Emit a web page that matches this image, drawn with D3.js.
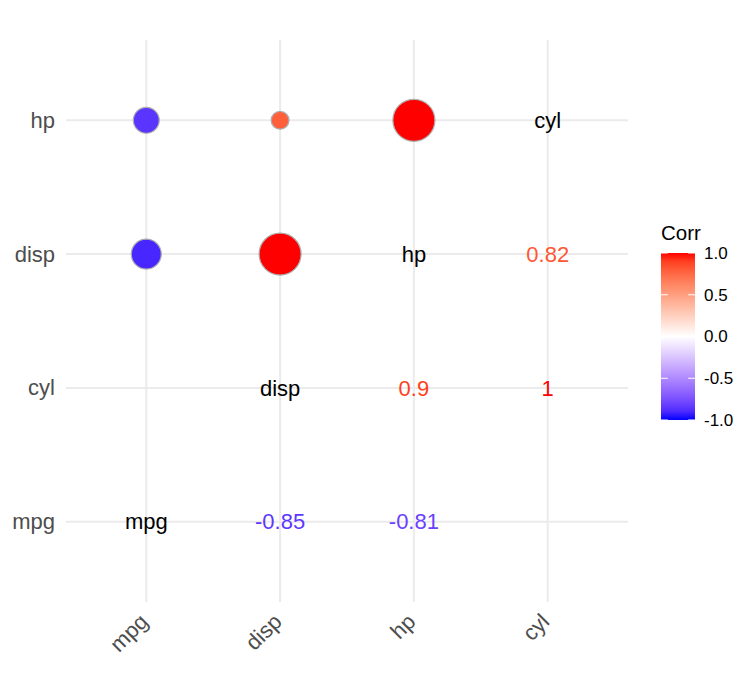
<!DOCTYPE html>
<html>
<head>
<meta charset="utf-8">
<script src="https://cdn.jsdelivr.net/npm/d3@7"></script>
<style>
  body { margin: 0; background: #fff; }
  text { font-family: "Liberation Sans", Arial, sans-serif; }
</style>
</head>
<body>
<div id="chart-area"></div>
<script>
// variables in axis order
const xVars = ["mpg", "disp", "hp", "cyl"];
const yVars = ["mpg", "cyl", "disp", "hp"];

// lower triangle: circles (corr value + relative size)
const circleX = ["mpg", "disp", "hp", "mpg", "disp"];
const circleY = ["hp", "hp", "hp", "disp", "disp"];
const circleCorr = [-0.86, 0.79, 1, -0.91, 1];
const circleSize = [0.38, 0.18, 1, 0.51, 1];

// variable name labels
const nameX = ["cyl", "hp", "disp", "mpg"];
const nameY = ["hp", "disp", "cyl", "mpg"];

// upper triangle: numbers
const numX = ["cyl", "hp", "cyl", "disp", "hp"];
const numY = ["disp", "cyl", "cyl", "mpg", "mpg"];
const numCorr = [0.82, 0.9, 1, -0.85, -0.81];

const legendTicks = [-1, -0.5, 0, 0.5, 1];

const width = 756, height = 700;
const margin = {top: 40, right: 128, bottom: 98, left: 66};
const fs = 22;

const svg = d3.select("#chart-area").append("svg")
    .attr("width", width)
    .attr("height", height);

const x = d3.scalePoint()
    .domain(xVars)
    .range([margin.left, width - margin.right])
    .padding(0.6);

const y = d3.scalePoint()
    .domain(yVars)
    .range([height - margin.bottom, margin.top])
    .padding(0.6);

const color = d3.scaleLinear()
    .domain([-1, 0, 1])
    .range(["#0000ff", "#ffffff", "#ff0000"])
    .interpolate(d3.interpolateLab);

const r = d3.scaleSqrt().domain([0, 1]).range([0, 21]);

// grid
svg.append("g").selectAll("line")
    .data(xVars)
    .enter().append("line")
    .attr("x1", d => x(d)).attr("x2", d => x(d))
    .attr("y1", margin.top).attr("y2", height - margin.bottom)
    .attr("stroke", "#ebebeb").attr("stroke-width", 2);

svg.append("g").selectAll("line")
    .data(yVars)
    .enter().append("line")
    .attr("y1", d => y(d)).attr("y2", d => y(d))
    .attr("x1", margin.left).attr("x2", width - margin.right)
    .attr("stroke", "#ebebeb").attr("stroke-width", 2);

// axes labels
const yAxis = svg.append("g")
    .attr("transform", "translate(" + margin.left + ",0)")
    .call(d3.axisLeft(y).tickSize(0).tickPadding(11));
yAxis.select(".domain").remove();
yAxis.attr("font-size", null).attr("font-family", null);
yAxis.selectAll("text")
    .attr("font-size", fs).attr("fill", "#4d4d4d");

svg.append("g").selectAll("text")
    .data(xVars)
    .enter().append("text")
    .attr("transform", d => "translate(" + (x(d) + 3) + ",623) rotate(-45)")
    .attr("text-anchor", "end")
    .attr("font-size", fs)
    .attr("fill", "#4d4d4d")
    .text(d => d);

// circles
const circles = circleX.map((d, i) => ({x: d, y: circleY[i], v: circleCorr[i], s: circleSize[i]}));
svg.append("g").selectAll("circle")
    .data(circles)
    .enter().append("circle")
    .attr("cx", d => x(d.x))
    .attr("cy", d => y(d.y))
    .attr("r", d => r(d.s))
    .attr("fill", d => color(d.v))
    .attr("stroke", "#adadad")
    .attr("stroke-width", 1.2);

// names
svg.append("g").selectAll("text")
    .data(nameX.map((d, i) => ({x: d, y: nameY[i]})))
    .enter().append("text")
    .attr("x", d => x(d.x))
    .attr("y", d => y(d.y))
    .attr("dy", "0.35em")
    .attr("text-anchor", "middle")
    .attr("font-size", fs)
    .attr("fill", "#000")
    .text(d => d.x);

// numbers
svg.append("g").selectAll("text")
    .data(numX.map((d, i) => ({x: d, y: numY[i], v: numCorr[i]})))
    .enter().append("text")
    .attr("x", d => x(d.x))
    .attr("y", d => y(d.y))
    .attr("dy", "0.35em")
    .attr("text-anchor", "middle")
    .attr("font-size", fs)
    .attr("fill", d => color(d.v))
    .text(d => d.v);

// legend
const lx = 661, ly = 253, lw = 34, lh = 167;
const ls = d3.scaleLinear().domain([-1, 1]).range([ly + lh, ly]);

const grad = svg.append("defs").append("linearGradient")
    .attr("id", "corrGrad")
    .attr("x1", 0).attr("y1", 1).attr("x2", 0).attr("y2", 0);
grad.selectAll("stop")
    .data(d3.range(0, 21).map(i => -1 + i * 0.1))
    .enter().append("stop")
    .attr("offset", d => (d + 1) / 2)
    .attr("stop-color", d => color(d));

svg.append("text")
    .attr("x", lx).attr("y", ly - 13)
    .attr("font-size", 20.5).attr("fill", "#000")
    .text("Corr");

svg.append("rect")
    .attr("x", lx).attr("y", ly)
    .attr("width", lw).attr("height", lh)
    .attr("fill", "url(#corrGrad)");

const lt = svg.append("g").selectAll("g")
    .data(legendTicks)
    .enter().append("g");
lt.append("line")
    .attr("x1", lx).attr("x2", lx + lw / 5)
    .attr("y1", d => ls(d)).attr("y2", d => ls(d))
    .attr("stroke", "#fff").attr("stroke-width", 1);
lt.append("line")
    .attr("x1", lx + lw - lw / 5).attr("x2", lx + lw)
    .attr("y1", d => ls(d)).attr("y2", d => ls(d))
    .attr("stroke", "#fff").attr("stroke-width", 1);
lt.append("text")
    .attr("x", lx + lw + 9)
    .attr("y", d => ls(d))
    .attr("dy", "0.35em")
    .attr("font-size", 17)
    .attr("fill", "#000")
    .text(d => d.toFixed(1));
</script>
</body>
</html>
